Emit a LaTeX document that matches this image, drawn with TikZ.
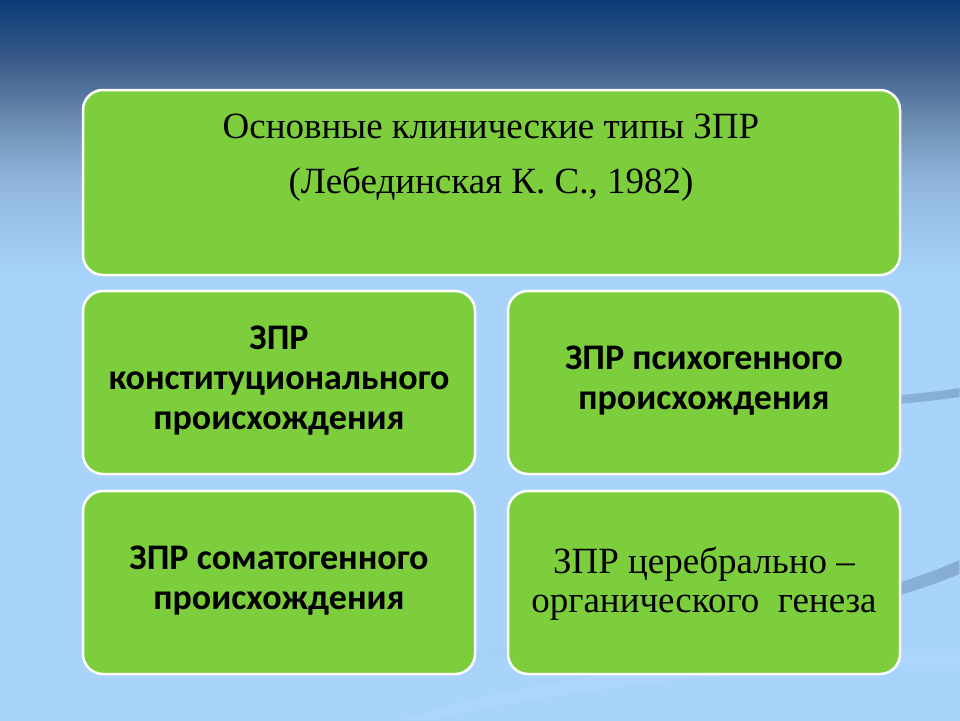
\documentclass[tikz,border=0pt]{standalone}
\usepackage{fontspec}
\usetikzlibrary{fadings}
\setmainfont{Liberation Serif}
\newfontfamily\calb{Carlito}[BoldFont={Carlito Bold}]
\newfontfamily\serf{Liberation Serif}
\definecolor{bgtop}{HTML}{0B3D78}
\definecolor{bgmid1}{HTML}{3A5A88}
\definecolor{bgmid2}{HTML}{6A8CB0}
\definecolor{bgmid3}{HTML}{90B5DC}
\definecolor{bglight}{HTML}{A8D4FC}
\definecolor{boxgreen}{HTML}{7DCE3C}
\definecolor{swoosh}{HTML}{86ACD4}
\definecolor{swooshlt}{HTML}{B4D9FC}
% tikz maps the path onto the 25bp..75bp band of a 100bp shading
\pgfdeclareverticalshading{bgshade}{100bp}{%
  color(0bp)=(bglight);
  color(55.5bp)=(bglight);
  color(62.5bp)=(bgmid3);
  color(66.7bp)=(bgmid2);
  color(70.8bp)=(bgmid1);
  color(75bp)=(bgtop);
  color(100bp)=(bgtop)}
\tikzset{
  gbox/.style={draw=white, line width=2.5pt, fill=boxgreen, rounded corners=20pt},
  btext/.style={font=\calb\bfseries\fontsize{36}{40}\selectfont, align=center, text=black},
  stext/.style={font=\serf\fontsize{37}{39}\selectfont, align=center, text=black}
}
\begin{document}
\begin{tikzpicture}[x=1pt,y=-1pt]
\useasboundingbox (0,0) rectangle (960,720);
\shade[shading=bgshade] (0,0) rectangle (960,720);
% faint swooshes
\fill[swoosh, path fading=west] (560,404) .. controls (720,400) and (860,404) .. (960,388)
  -- (960,397) .. controls (860,412) and (720,410) .. (560,412) -- cycle;
\fill[swoosh, path fading=west] (460,650) .. controls (700,630) and (860,605) .. (960,560)
  -- (960,574) .. controls (860,616) and (700,642) .. (460,660) -- cycle;
\fill[swooshlt, opacity=0.5] (400,720) .. controls (560,670) and (760,650) .. (960,655)
  -- (960,665) .. controls (760,665) and (560,690) .. (430,720) -- cycle;
% boxes
\path[gbox] (83,90) rectangle (900,275);
\path[gbox] (83,291) rectangle (475,474);
\path[gbox] (508,291) rectangle (900,474);
\path[gbox] (83,491) rectangle (475,674);
\path[gbox] (508,491) rectangle (900,674);
% texts
\node[stext, font=\serf\fontsize{37}{55}\selectfont] (title) at (491,158)
  {Основные клинические типы ЗПР\\(Лебединская К. С., 1982)};
\node[btext] (konst) at (279,381) {ЗПР\\конституционального\\происхождения};
\node[btext] (psych) at (704,381) {ЗПР психогенного\\происхождения};
\node[btext] (somat) at (279,581) {ЗПР соматогенного\\происхождения};
\node[stext] (cereb) at (704,584) {ЗПР церебрально –\\органического\ \ генеза};
\end{tikzpicture}
\end{document}
